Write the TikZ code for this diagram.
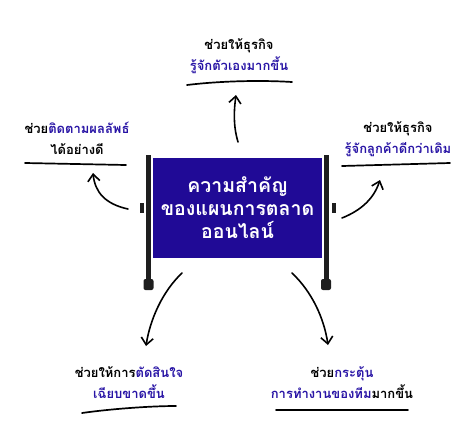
\documentclass[tikz,border=0pt]{standalone}
\usepackage{fontspec}
\newfontfamily\thai[Script=Thai]{Loma}
\usetikzlibrary{arrows.meta}
\definecolor{boxblue}{RGB}{32,10,150}
\definecolor{txtblue}{RGB}{40,20,165}
\definecolor{pole}{RGB}{30,30,30}
\newcommand{\bl}[1]{\textcolor{txtblue}{#1}}
\begin{document}
\begin{tikzpicture}[x=1pt,y=-1pt,
  lbl/.style={font=\thai\bfseries\fontsize{13}{21}\selectfont, align=center, text=black, inner sep=0pt},
  uline/.style={line width=1.7pt, line cap=round, draw=black},
  arr/.style={line width=1.6pt, line cap=round, draw=black, -{Straight Barb[length=7pt,width=12pt,line width=1.6pt]}}]
\useasboundingbox (0,0) rectangle (474,440);
% board
\fill[boxblue] (153,158) rectangle (322,258);
\fill[pole] (146,155) rectangle (151,281);
\fill[pole, rounded corners=2pt] (143.5,279) rectangle (153.5,290);
\fill[pole] (140,203) rectangle (144,213);
\fill[pole] (323.5,155) rectangle (328.5,281);
\fill[pole, rounded corners=2pt] (321,279) rectangle (331,290);
\fill[pole] (332,203) rectangle (336,213);
\node[font=\thai\bfseries\fontsize{19.5}{23}\selectfont, text=white, align=center, inner sep=0pt] (title) at (237.5,208) {ความสำคัญ\\ของแผนการตลาด\\ออนไลน์};
% top
\node[lbl] (top) at (239,56) {ช่วยให้ธุรกิจ\\\bl{รู้จักตัวเองมากขึ้น}};
\coordinate (tu1) at (187,85); \coordinate (tu2) at (292,82);
\draw[uline] (tu1) .. controls (220,81) and (260,80) .. (tu2);
\coordinate (ta1) at (238,142); \coordinate (ta2) at (236,95);
\draw[arr] (ta1) .. controls (233,125) and (234,110) .. (ta2);
% top left
\node[lbl] (tl) at (77,138) {ช่วย\bl{ติดตามผลลัพธ์}\\ได้อย่างดี};
\coordinate (lu1) at (25,163); \coordinate (lu2) at (126,165);
\draw[uline] (lu1) -- (lu2);
\coordinate (la1) at (128,209); \coordinate (la2) at (93,173);
\draw[arr] (la1) .. controls (105,204) and (95,192) .. (la2);
% top right
\node[lbl] (tr) at (398,139) {ช่วยให้ธุรกิจ\\\bl{รู้จักลูกค้าดีกว่าเดิม}};
\coordinate (ru1) at (342,166); \coordinate (ru2) at (450,163);
\draw[uline] (ru1) -- (ru2);
\coordinate (ra1) at (342,218); \coordinate (ra2) at (380,180);
\draw[arr] (ra1) .. controls (362,210) and (374,198) .. (ra2);
% bottom left
\node[lbl] (bl) at (129,383) {ช่วยให้การ\bl{ตัดสินใจ}\\\bl{เฉียบขาดขึ้น}};
\coordinate (bu1) at (82,413); \coordinate (bu2) at (176,406);
\draw[uline] (bu1) .. controls (110,409) and (150,406) .. (bu2);
\coordinate (ba1) at (182,273); \coordinate (ba2) at (146,346);
\draw[arr] (ba1) .. controls (162,292) and (150,320) .. (ba2);
% bottom right
\node[lbl] (br) at (342,383) {ช่วย\bl{กระตุ้น}\\\bl{การทำงานของทีม}มากขึ้น};
\coordinate (cu1) at (276,410); \coordinate (cu2) at (408,410);
\draw[uline] (cu1) -- (cu2);
\coordinate (ca1) at (292,273); \coordinate (ca2) at (328,345);
\draw[arr] (ca1) .. controls (312,292) and (324,318) .. (ca2);
\end{tikzpicture}
\end{document}
